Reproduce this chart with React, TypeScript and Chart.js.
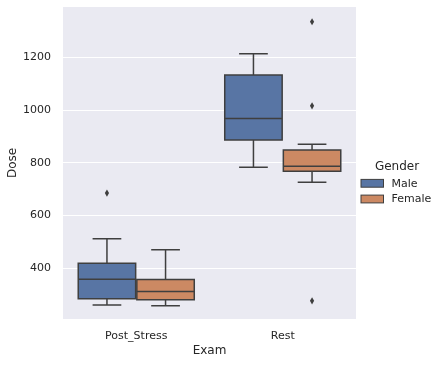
import React, { useEffect, useRef } from 'react';
import { Chart, registerables } from 'chart.js';

Chart.register(...registerables);

const categories = ['Post_Stress', 'Rest'];
const seriesNames = ['Male', 'Female'];
const seriesColors = ['#5875a4', '#cc8963'];

const maleLow = [260, 783];
const maleQ1 = [284, 886];
const maleMedian = [358, 968];
const maleQ3 = [419, 1133];
const maleHigh = [512, 1214];
const maleOutliers = [[685], []];

const femaleLow = [257, 726];
const femaleQ1 = [280, 768];
const femaleMedian = [311, 787];
const femaleQ3 = [357, 848];
const femaleHigh = [470, 870];
const femaleOutliers = [[], [1335, 1016, 276]];

const yTicks = [400, 600, 800, 1000, 1200];
const yMin = 207;
const yMax = 1391;

const LINE = '#3f3f3f';
const TEXT = '#262626';
const FONT = "'DejaVu Sans', sans-serif";

const stats = [
  { low: maleLow, q1: maleQ1, med: maleMedian, q3: maleQ3, high: maleHigh, out: maleOutliers },
  { low: femaleLow, q1: femaleQ1, med: femaleMedian, q3: femaleQ3, high: femaleHigh, out: femaleOutliers },
];

const boxPlugin = {
  id: 'boxExtras',
  beforeDraw(chart: any) {
    const { ctx, chartArea } = chart;
    ctx.save();
    ctx.fillStyle = '#eaeaf2';
    ctx.fillRect(chartArea.left, chartArea.top, chartArea.right - chartArea.left, chartArea.bottom - chartArea.top);
    ctx.restore();
  },
  afterDatasetsDraw(chart: any) {
    const ctx = chart.ctx;
    const ys = chart.scales.y;
    chart.data.datasets.forEach((_ds: any, i: number) => {
      const meta = chart.getDatasetMeta(i);
      const st = stats[i];
      meta.data.forEach((el: any, j: number) => {
        const x = el.x;
        const w = el.width;
        const yLow = ys.getPixelForValue(st.low[j]);
        const yQ1 = ys.getPixelForValue(st.q1[j]);
        const yMed = ys.getPixelForValue(st.med[j]);
        const yQ3 = ys.getPixelForValue(st.q3[j]);
        const yHigh = ys.getPixelForValue(st.high[j]);
        ctx.save();
        ctx.strokeStyle = LINE;
        ctx.lineWidth = 1.5;
        ctx.beginPath();
        ctx.rect(x - w / 2, yQ3, w, yQ1 - yQ3);
        ctx.moveTo(x, yQ3);
        ctx.lineTo(x, yHigh);
        ctx.moveTo(x, yQ1);
        ctx.lineTo(x, yLow);
        ctx.moveTo(x - w / 4, yHigh);
        ctx.lineTo(x + w / 4, yHigh);
        ctx.moveTo(x - w / 4, yLow);
        ctx.lineTo(x + w / 4, yLow);
        ctx.moveTo(x - w / 2, yMed);
        ctx.lineTo(x + w / 2, yMed);
        ctx.stroke();
        ctx.fillStyle = LINE;
        st.out[j].forEach((v: number) => {
          const py = ys.getPixelForValue(v);
          ctx.beginPath();
          ctx.moveTo(x, py - 3.6);
          ctx.lineTo(x + 2.1, py);
          ctx.lineTo(x, py + 3.6);
          ctx.lineTo(x - 2.1, py);
          ctx.closePath();
          ctx.fill();
        });
        ctx.restore();
      });
    });
  },
  afterDraw(chart: any) {
    const ctx = chart.ctx;
    ctx.save();
    ctx.fillStyle = TEXT;
    ctx.font = `12px ${FONT}`;
    ctx.textAlign = 'center';
    ctx.textBaseline = 'middle';
    ctx.fillText('Gender', 397, 167);
    ctx.font = `11px ${FONT}`;
    ctx.textAlign = 'left';
    seriesNames.forEach((name, i) => {
      const cy = 183.3 + i * 15.7;
      ctx.fillStyle = seriesColors[i];
      ctx.fillRect(361, cy - 3.9, 22.5, 7.8);
      ctx.strokeStyle = LINE;
      ctx.lineWidth = 1;
      ctx.strokeRect(361, cy - 3.9, 22.5, 7.8);
      ctx.fillStyle = TEXT;
      ctx.fillText(name, 391.5, cy + 0.5);
    });
    ctx.restore();
  },
};

export default function App() {
  const ref = useRef<HTMLCanvasElement | null>(null);
  useEffect(() => {
    document.body.style.margin = '0';
    Chart.defaults.font.family = FONT;
    const chart = new Chart(ref.current as HTMLCanvasElement, {
      type: 'bar',
      data: {
        labels: categories,
        datasets: seriesNames.map((name, i) => ({
          label: name,
          data: stats[i].q1.map((q, j) => [q, stats[i].q3[j]]),
          backgroundColor: seriesColors[i],
          borderWidth: 0,
          borderSkipped: false,
          categoryPercentage: 0.8,
          barPercentage: 0.98,
        })),
      } as any,
      options: {
        responsive: false,
        animation: false,
        layout: { padding: { top: 7, right: 86, left: 0, bottom: 0 } },
        plugins: { legend: { display: false }, tooltip: { enabled: false } },
        scales: {
          x: {
            grid: { display: false, drawTicks: false },
            border: { display: false },
            ticks: { color: TEXT, font: { size: 11, family: FONT }, padding: 11 },
            title: { display: true, text: 'Exam', color: TEXT, font: { size: 12, family: FONT }, padding: { top: 0, bottom: 7 } },
            afterFit: (s: any) => { s.height = 46; s.paddingLeft = 0; s.paddingRight = 0; },
          },
          y: {
            min: yMin,
            max: yMax,
            grid: { color: '#ffffff', lineWidth: 1, drawTicks: false },
            border: { display: false },
            afterBuildTicks: (s: any) => { s.ticks = yTicks.map((v) => ({ value: v })); },
            ticks: { color: TEXT, font: { size: 11, family: FONT }, padding: 12, callback: (v: any) => String(v) },
            title: { display: true, text: 'Dose', color: TEXT, font: { size: 12, family: FONT }, padding: { top: 6, bottom: 0 } },
            afterFit: (s: any) => { s.width = 63; s.paddingTop = 0; s.paddingBottom = 0; },
          },
        },
      } as any,
      plugins: [boxPlugin],
    });
    return () => chart.destroy();
  }, []);
  return (
    <div style={{ position: 'absolute', left: 0, top: 0, width: 442, height: 365 }}>
      <canvas ref={ref} width={442} height={365} style={{ display: 'block' }} />
    </div>
  );
}
